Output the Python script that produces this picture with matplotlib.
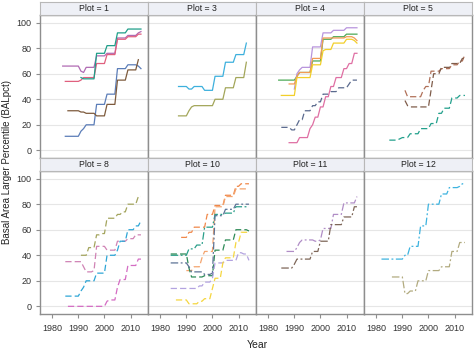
"""
Basal area larger percentile (BALpct) by year, one panel per plot
"""

# ----------------------------------------------------------------------------------------------------------------------
# libraries
import numpy as np
import matplotlib
matplotlib.use('Agg')
import matplotlib.pyplot as plt
# ----------------------------------------------------------------------------------------------------------------------

# ----------------------------------------------------------------------------------------------------------------------
# data (yearly values, one list per tree, first year in *_start)
plot_labels = ['Plot = 1', 'Plot = 3', 'Plot = 4', 'Plot = 5', 'Plot = 8', 'Plot = 10', 'Plot = 11', 'Plot = 12']

plot1_start = [1984, 1985, 1991, 1985, 1986]
plot1_values = [
    [66, 66, 66, 66, 66, 66, 66, 62, 61, 65, 65, 65, 65, 74, 74, 74, 74, 76, 76, 76, 76, 88, 88, 88, 88,
     90, 90, 90, 90, 92, 93],
    [54, 54, 54, 54, 54, 54, 55, 57, 57, 57, 57, 57, 68, 68, 68, 68, 75, 75, 75, 75, 87, 87, 87, 87,
     89, 89, 89, 89, 91, 91],
    [57, 56, 56, 56, 56, 56, 76, 76, 76, 76, 82, 82, 82, 82, 92, 92, 92, 92, 95, 95, 95, 95, 95, 95],
    [11, 11, 11, 11, 11, 11, 15, 17, 20, 20, 20, 20, 36, 36, 36, 36, 44, 44, 44, 44, 64, 64, 64, 64,
     67, 67, 67, 67, 66, 64],
    [31, 31, 31, 31, 31, 30, 30, 29, 29, 29, 29, 27, 27, 27, 27, 36, 36, 36, 36, 55, 55, 55, 55,
     63, 63, 63, 63, 71],
]

plot3_start = [1987, 1987]
plot3_values = [
    [50, 50, 50, 50, 48, 48, 50, 50, 50, 50, 47, 47, 47, 47, 58, 58, 58, 58, 69, 69, 69, 69, 75, 75, 75, 75, 84],
    [27, 27, 27, 27, 31, 34, 35, 35, 35, 35, 35, 35, 35, 35, 40, 40, 40, 40, 49, 49, 49, 49, 57, 57, 57, 57, 69],
]

plot4_start = [1984, 1990, 1988, 1985, 1985, 1988]
plot4_values = [
    [55, 55, 55, 55, 55, 55, 55, 58, 61, 61, 61, 61, 61, 70, 70, 70, 70, 87, 87, 87, 87, 89, 89, 89, 89, 89,
     91, 91, 91, 91, 91],
    [48, 60, 63, 65, 65, 65, 65, 81, 81, 81, 81, 92, 92, 92, 92, 94, 94, 94, 94, 94, 96, 96, 96, 96, 96],
    [52, 52, 52, 58, 61, 61, 61, 61, 61, 72, 72, 72, 72, 88, 88, 88, 88, 88, 88, 88, 88, 88, 89, 89, 89, 88, 86],
    [43, 43, 43, 43, 43, 43, 57, 57, 57, 57, 57, 57, 67, 67, 67, 67, 78, 79, 79, 79, 84, 84, 84, 84, 84,
     87, 87, 87, 86, 84],
    [18, 18, 18, 18, 16, 16, 20, 24, 24, 31, 31, 31, 35, 35, 38, 38, 44, 44, 44, 46, 46, 46, 49, 49, 49, 49,
     52, 55, 55, 55],
    [6, 6, 6, 6, 10, 10, 10, 10, 17, 20, 26, 26, 34, 34, 42, 42, 50, 50, 57, 57, 57, 64, 64, 68, 68, 76, 76],
]

plot5_start = [1991, 1991, 1985]
plot5_values = [
    [47, 42, 42, 42, 42, 42, 42, 47, 50, 50, 62, 62, 62, 62, 64, 64, 64, 64, 67, 67, 67, 70, 70, 75],
    [39, 35, 34, 34, 34, 34, 34, 34, 34, 34, 47, 60, 60, 60, 65, 65, 65, 65, 68, 68, 68, 68, 72, 72],
    [8, 8, 8, 8, 9, 10, 10, 10, 13, 13, 13, 13, 17, 17, 17, 17, 21, 21, 21, 29, 29, 33, 33, 33, 41, 41, 41,
     43, 43, 43],
]

plot8_start = [1991, 1985, 1985, 1986]
plot8_values = [
    [40, 40, 40, 46, 46, 46, 56, 56, 57, 57, 69, 69, 69, 69, 72, 72, 74, 74, 80, 80, 80, 80, 86, 86],
    [35, 35, 35, 35, 35, 35, 35, 31, 27, 27, 27, 28, 47, 47, 47, 47, 44, 44, 44, 44, 51, 51, 51, 51,
     53, 53, 53, 56, 56, 56],
    [8, 8, 8, 8, 8, 8, 12, 15, 20, 20, 20, 20, 26, 26, 26, 26, 40, 40, 40, 40, 44, 51, 51, 51, 60, 60, 60,
     63, 63, 67],
    [0, 0, 0, 0, 0, 0, 0, 0, 0, 0, 0, 0, 0, 0, 0, 4, 5, 5, 5, 15, 21, 21, 21, 32, 32, 32, 32, 37, 37],
]

plot10_start = [1988, 1990, 1984, 1984, 1984, 1984, 1986]
plot10_values = [
    [54, 54, 54, 58, 58, 62, 62, 62, 62, 62, 72, 72, 72, 79, 79, 79, 79, 87, 87, 87, 87, 94, 94, 96, 96, 96, 96],
    [28, 28, 28, 31, 31, 31, 38, 43, 43, 43, 43, 78, 78, 78, 78, 86, 86, 86, 86, 92, 92, 92, 92, 92, 92],
    [40, 40, 40, 40, 40, 40, 40, 45, 45, 45, 48, 48, 48, 62, 62, 62, 62, 72, 72, 72, 72, 73, 73, 73, 73,
     78, 78, 78, 78, 78, 78],
    [41, 41, 41, 41, 41, 41, 41, 30, 23, 23, 23, 23, 23, 24, 24, 24, 24, 44, 44, 44, 44, 52, 52, 52, 52,
     60, 60, 60, 60, 60, 59],
    [34, 34, 34, 34, 34, 34, 34, 31, 27, 27, 27, 27, 27, 25, 25, 25, 26, 71, 71, 71, 71, 76, 76, 76, 76,
     80, 80, 80, 80, 80, 80],
    [14, 14, 14, 14, 14, 14, 14, 14, 14, 14, 14, 16, 16, 19, 19, 19, 22, 34, 34, 34, 34, 36, 36, 36, 36, 36,
     42, 42, 41, 41, 36],
    [5, 5, 5, 5, 5, 2, 2, 2, 2, 4, 4, 6, 6, 6, 14, 22, 22, 22, 34, 38, 38, 38, 38, 50, 50, 58, 58, 58, 58],
]

plot11_start = [1987, 1985]
plot11_values = [
    [43, 43, 43, 43, 46, 50, 52, 52, 52, 52, 52, 51, 51, 52, 61, 61, 61, 61, 72, 72, 72, 72, 81, 81, 81, 81, 81, 86],
    [30, 30, 30, 30, 30, 33, 37, 37, 37, 37, 37, 37, 43, 43, 43, 51, 51, 51, 51, 64, 64, 64, 64, 64,
     70, 70, 70, 70, 78, 78],
]

plot12_start = [1982, 1986]
plot12_values = [
    [37, 37, 37, 37, 37, 37, 37, 37, 37, 40, 40, 47, 47, 47, 47, 63, 63, 63, 80, 80, 80, 80, 80, 88, 88, 88,
     93, 93, 93, 93, 94, 96, 96],
    [23, 23, 23, 23, 23, 10, 10, 12, 12, 12, 20, 20, 20, 20, 28, 28, 28, 28, 28, 31, 31, 31, 31, 43, 43, 43,
     50, 50, 50],
]

y_ticks = [0, 20, 40, 60, 80, 100]
x_ticks = [1980, 1990, 2000, 2010]
# ----------------------------------------------------------------------------------------------------------------------

# ----------------------------------------------------------------------------------------------------------------------
# styles
solid, dash, dashdot = '-', (0, (5, 2.5)), (0, (6, 2, 1.5, 2))

plot_colors = [
    ['#B06AB3', '#E0607E', '#1F9E89', '#5B7DB8', '#7D5A3C'],
    ['#3DB0DD', '#A3A65A'],
    ['#4DAA57', '#B894DC', '#F29B55', '#F2CF2A', '#5A6A8E', '#DF6FA3'],
    ['#B07058', '#7F5C4A', '#22A08C'],
    ['#A4A55E', '#D083B5', '#2EA6D6', '#D46CC3'],
    ['#F0884A', '#F4A46E', '#2A9F8A', '#2E8B57', '#5D7396', '#B3A3E0', '#F5D63F'],
    ['#B08DC6', '#7E6658'],
    ['#3DB3DF', '#B2AB80'],
]
plot_styles = [
    [solid] * 5,
    [solid] * 2,
    [solid, solid, solid, solid, dash, solid],
    [dash] * 3,
    [dash] * 4,
    [dash, dash, dashdot, dash, dashdot, dash, dash],
    [dashdot] * 2,
    [dashdot] * 2,
]
# ----------------------------------------------------------------------------------------------------------------------


# ----------------------------------------------------------------------------------------------------------------------
# method to draw one panel with its strip
def draw_panel(fig, box_px, strip_h, label, starts, values, colors, styles, show_y, show_x,
               fig_w=474., fig_h=350.):

    left, top, width, height = box_px
    ax = fig.add_axes([left / fig_w, 1 - (top + height) / fig_h, width / fig_w, height / fig_h])

    for start, vals, color, style in zip(starts, values, colors, styles):
        years = np.arange(start, start + len(vals))
        ax.plot(years, vals, color=color, linestyle=style, linewidth=0.9)

    ax.set_xlim(1975.3, 2016.7)
    ax.set_ylim(-6, 106)
    ax.set_yticks(y_ticks)
    ax.set_xticks(x_ticks)
    ax.yaxis.grid(True, color='#E6E6E6', linewidth=0.8)
    ax.set_axisbelow(True)
    for spine in ax.spines.values():
        spine.set_color('#8E8E8E')
        spine.set_linewidth(1.0)

    ax.tick_params(axis='y', labelleft=show_y, length=3 if show_y else 0, color='#8E8E8E',
                   labelsize=6.5, labelcolor='#333333', pad=3)
    ax.tick_params(axis='x', labelbottom=show_x, length=3 if show_x else 0, color='#8E8E8E',
                   labelsize=6.5, labelcolor='#333333', pad=4)

    strip = fig.add_axes([left / fig_w, 1 - top / fig_h, width / fig_w, strip_h / fig_h])
    strip.set_facecolor('#EEF0F6')
    strip.set_xticks([])
    strip.set_yticks([])
    for spine in strip.spines.values():
        spine.set_color('#B8B8B8')
        spine.set_linewidth(0.8)
    strip.text(0.5, 0.5, label, ha='center', va='center', fontsize=6.3, color='#222222',
               transform=strip.transAxes)

    return ax
# ----------------------------------------------------------------------------------------------------------------------


# ----------------------------------------------------------------------------------------------------------------------
# main
plt.rcParams['font.family'] = ['Liberation Sans', 'DejaVu Sans']

fig = plt.figure(figsize=(4.74, 3.5), dpi=100)

all_starts = [plot1_start, plot3_start, plot4_start, plot5_start,
              plot8_start, plot10_start, plot11_start, plot12_start]
all_values = [plot1_values, plot3_values, plot4_values, plot5_values,
              plot8_values, plot10_values, plot11_values, plot12_values]

col_left = [40, 148, 256, 364]
row_top = [15, 171]
panel_w, panel_h, strip_h = 108, 143, 13

for i, label in enumerate(plot_labels):
    row, col = i // 4, i % 4
    draw_panel(fig, (col_left[col], row_top[row], panel_w, panel_h), strip_h, label,
               all_starts[i], all_values[i], plot_colors[i], plot_styles[i],
               show_y=(col == 0), show_x=(row == 1))

fig.text(7 / 474., 1 - 162 / 350., 'Basal Area Larger Percentile (BALpct)', rotation=90,
         ha='center', va='center', fontsize=7, color='#222222')
fig.text(257 / 474., 1 - 345 / 350., 'Year', ha='center', va='center', fontsize=7.5, color='#222222')

fig.savefig('out.png', dpi=100)
# ----------------------------------------------------------------------------------------------------------------------
